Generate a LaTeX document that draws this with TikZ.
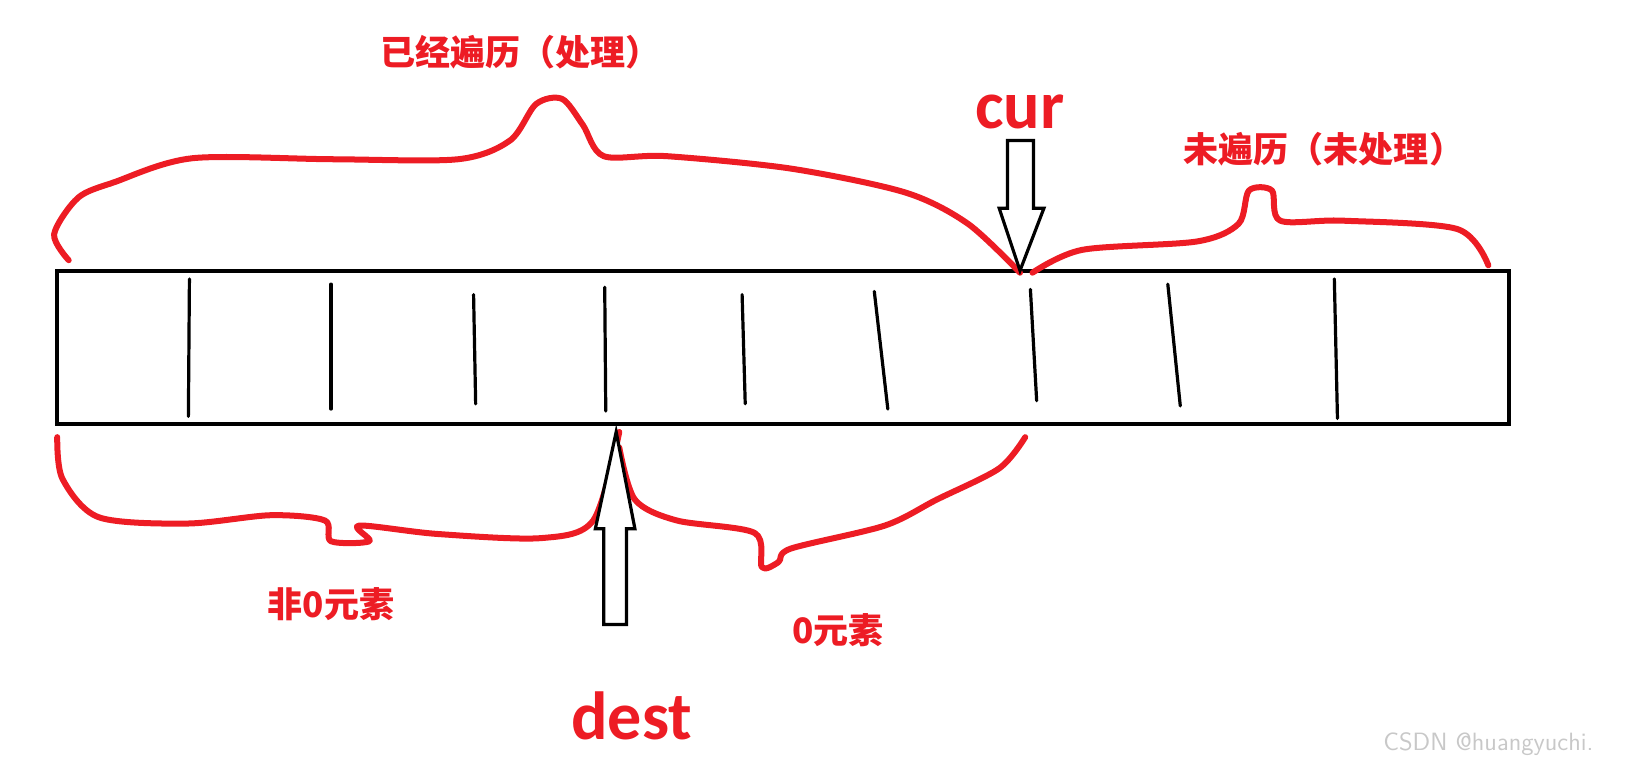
\documentclass[tikz,border=0pt]{standalone}
\usepackage{fontspec}
\setmainfont{Carlito}
\newfontfamily\cjk{Noto Sans CJK SC}
\begin{document}
\begin{tikzpicture}[x=0.52pt,y=-0.52pt,
  redline/.style={draw={rgb,255:red,237;green,28;blue,36},line width=3pt,line cap=round,line join=round},
  divider/.style={draw=black,line width=1.6pt,line cap=round},
  hollow/.style={draw=black,line width=1.6pt,fill=white,line join=miter},
  redtxt/.style={text={rgb,255:red,237;green,28;blue,36},font=\cjk\bfseries\fontsize{17.5}{18}\selectfont},
  bigtxt/.style={text={rgb,255:red,237;green,28;blue,36},font=\bfseries\fontsize{34}{35}\selectfont}]
\useasboundingbox (0,0) rectangle (1568,744);
\draw[black,line width=2.1pt] (55,260) rectangle (1450,407);
\coordinate (arr) at (55,260);
\foreach \a/\b/\c/\d in {182/268/181/400,318/273/318/393,455/283/457/388,581/276/582/395,713/283/716/388,840/280/853/393,990/278/996/385,1122/273/1134/390,1282/268/1285/402}
  \draw[divider] (\a,\b) -- (\c,\d);
\draw[redline] plot[smooth,tension=0.5] coordinates {(66,250) (52,225) (75,190) (110,175) (185,152) (320,153) (440,153) (490,135) (515,100) (540,95) (560,120) (580,150) (640,150) (760,162) (870,185) (930,215) (980,262)};
\draw[redline] plot[smooth,tension=0.5] coordinates {(992,262) (1040,240) (1150,232) (1190,215) (1200,183) (1222,183) (1230,212) (1290,212) (1400,220) (1430,255)};
\draw[redline] plot[smooth,tension=0.5] coordinates {(55,420) (60,460) (95,497) (180,503) (260,495) (312,500) (318,520) (355,520) (345,505) (420,513) (520,517) (570,500) (595,415)};
\draw[redline] plot[smooth,tension=0.5] coordinates {(595,430) (610,480) (650,500) (725,512) (732,545) (748,540) (760,527) (850,505) (900,480) (960,450) (985,420)};
\node[bigtxt] (cur) at (980,108) {cur};
\draw[hollow] (968,135) -- (993,135) -- (993,200) -- (1003,200) -- (980,260) coordinate (curtip) -- (960,200) -- (968,200) -- cycle;
\draw[hollow] (580,600) -- (602,600) -- (602,508) -- (610,508) -- (592,415) coordinate (desttip) -- (572,508) -- (580,508) -- cycle;
\node[bigtxt] (dest) at (607,688) {dest};
\node[redtxt] (t1) at (500,50) {已经遍历（处理）};
\node[redtxt] (t2) at (1272,143) {未遍历（未处理）};
\node[redtxt] (t3) at (318,580) {非0元素};
\node[redtxt] (t4) at (805,605) {0元素};
\node[text={rgb,255:red,200;green,200;blue,200},font=\fontsize{12.5}{13}\selectfont\sffamily] (wm) at (1430,715) {CSDN @huangyuchi.};
\end{tikzpicture}
\end{document}
